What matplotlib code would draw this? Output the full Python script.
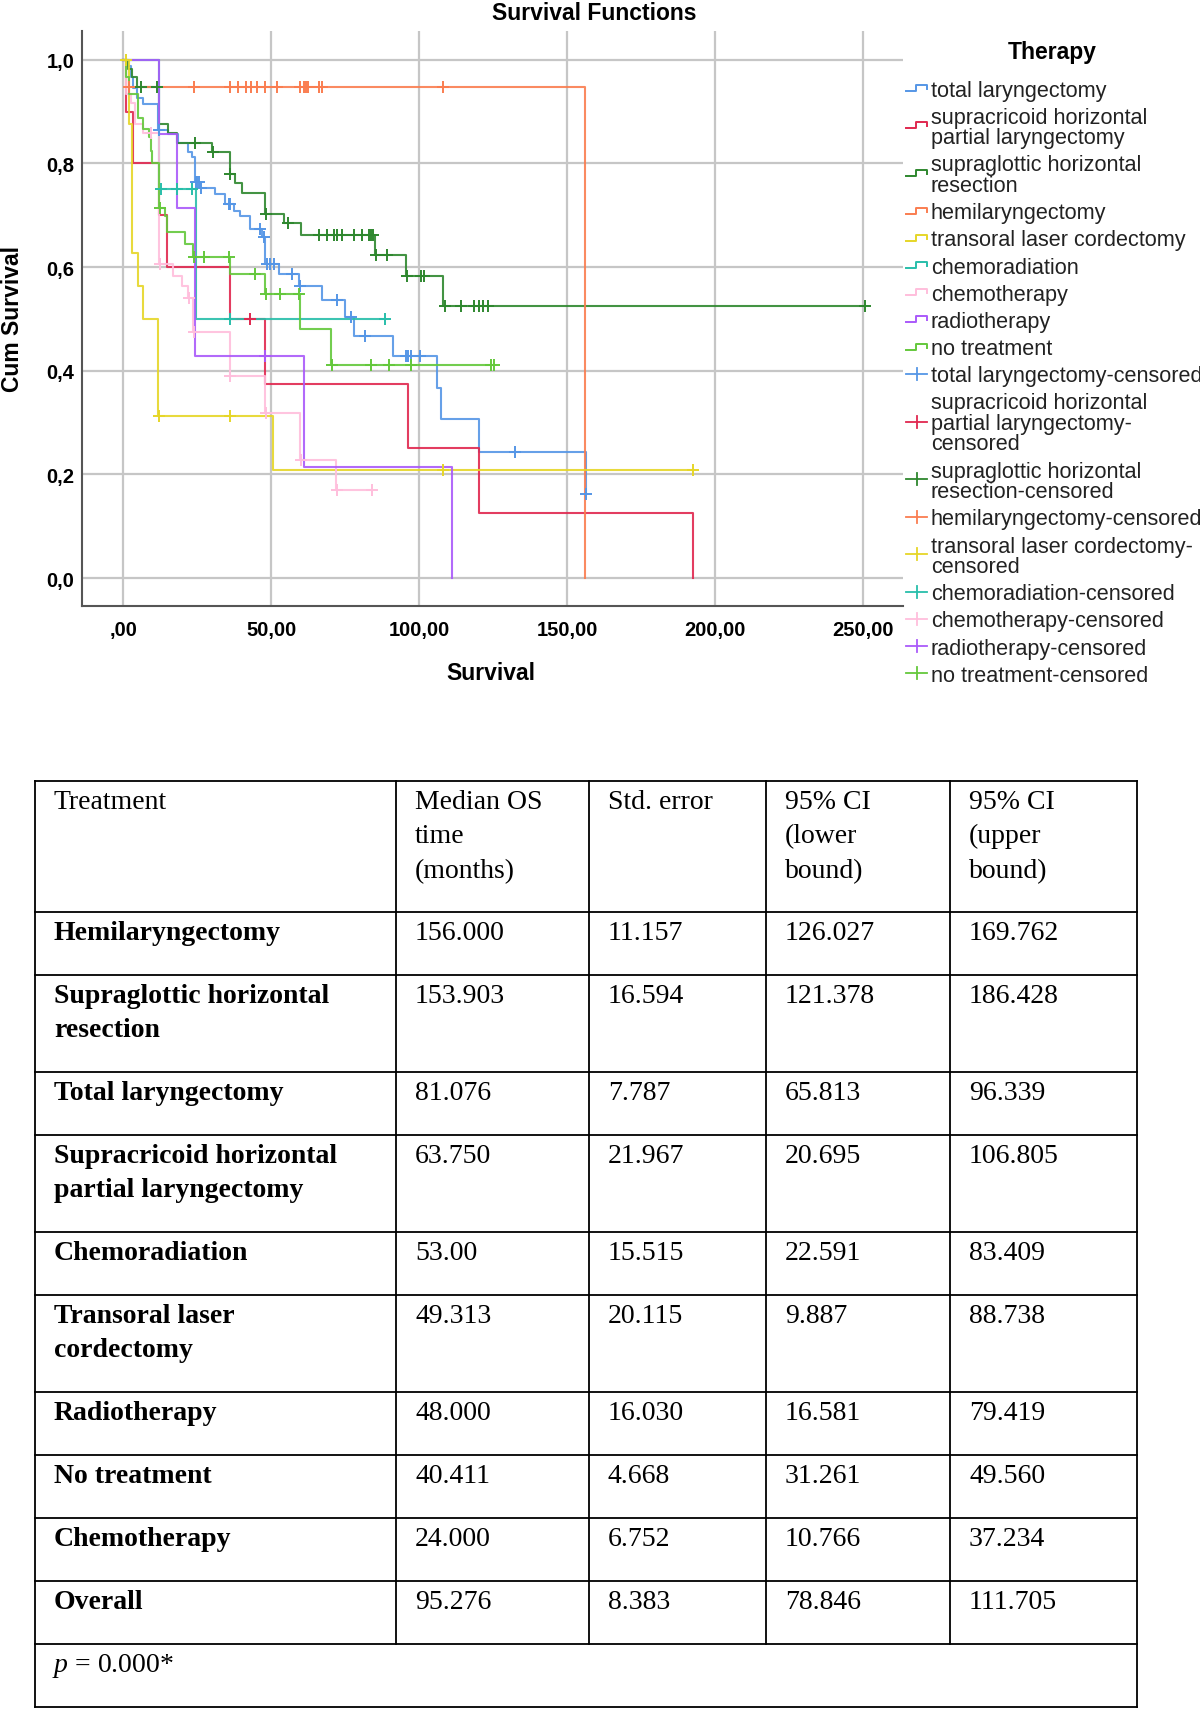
import matplotlib
matplotlib.use('Agg')
import matplotlib.pyplot as plt
from matplotlib.ticker import FuncFormatter, MultipleLocator
import numpy as np

plt.rcParams['font.family'] = ['Liberation Sans', 'DejaVu Sans']
plt.rcParams['mathtext.fontset'] = 'custom'
plt.rcParams['mathtext.rm'] = 'Liberation Serif'
plt.rcParams['mathtext.it'] = 'Liberation Serif:italic'

W, H = 1200, 1715

# Kaplan-Meier steps: event times (months), survival after, censored times
total_t = [1.7, 2.5, 3.4, 4.5, 6.8, 11.6, 15.0, 18.4, 21.7, 23.2, 24.2, 26.0, 31.1, 34.4, 37.3, 39.5,
           42.9, 46.8, 48.0, 52.5, 59.5, 67.2, 75.0, 78.1, 91.2, 106.1, 107.3, 120.2, 156.3]
total_s = [0.988, 0.966, 0.946, 0.927, 0.915, 0.864, 0.857, 0.840, 0.822, 0.813, 0.764, 0.752, 0.740,
           0.721, 0.708, 0.698, 0.673, 0.657, 0.606, 0.586, 0.564, 0.537, 0.503, 0.466, 0.428, 0.366,
           0.307, 0.244, 0.162]
total_c = [11.9, 24.4, 25.0, 25.6, 26.3, 35.6, 36.0, 46.3, 47.4, 48.5, 49.5, 50.8, 57.0, 59.8, 72.2,
           77.0, 81.8, 95.4, 96.3, 97.2, 100.3, 132.4, 156.3]

cric_t = [0.9, 3.4, 12.1, 14.8, 35.9, 48.0, 96.1, 120.2, 192.4]
cric_s = [0.9, 0.8, 0.7, 0.6, 0.5, 0.375, 0.25, 0.125, 0.0]
cric_c = [42.9]

supra_t = [1.5, 3.0, 4.5, 12.2, 15.2, 18.1, 29.9, 35.9, 37.8, 40.1, 47.8, 54.2, 60.2, 85.0, 95.5, 108.1]
supra_s = [0.983, 0.966, 0.947, 0.876, 0.858, 0.839, 0.821, 0.780, 0.763, 0.742, 0.703, 0.684, 0.661,
           0.624, 0.583, 0.525]
supra_c = [5.9, 11.3, 24.2, 30.2, 36.2, 48.1, 55.5, 66.0, 68.9, 71.1, 72.2, 73.9, 78.1, 80.7, 82.9,
           83.7, 84.4, 85.3, 89.0, 96.0, 100.5, 101.5, 108.6, 114.1, 118.5, 120.3, 121.4, 123.1, 250.5]

hemi_t = [1.0, 156.0]
hemi_s = [0.947, 0.0]
hemi_c = [2.0, 24.0, 35.9, 38.9, 41.5, 43.1, 45.0, 47.8, 51.9, 59.8, 60.9, 61.7, 62.4, 66.0, 67.1, 108.1]

tlc_t = [2.0, 2.8, 5.1, 6.8, 11.8, 50.6]
tlc_s = [0.876, 0.628, 0.564, 0.500, 0.312, 0.209]
tlc_c = [0.8, 11.9, 35.9, 108.1, 192.4]

crt_t = [12.0, 24.5]
crt_s = [0.75, 0.5]
crt_c = [12.7, 18.2, 23.3, 35.9, 88.3]

chemo_t = [0.8, 2.5, 4.0, 6.5, 11.9, 16.9, 19.8, 22.0, 23.7, 35.9, 48.0, 59.8, 72.0]
chemo_s = [0.934, 0.917, 0.876, 0.858, 0.606, 0.583, 0.564, 0.541, 0.474, 0.389, 0.318, 0.228, 0.170]
chemo_c = [9.3, 12.3, 22.1, 24.0, 36.0, 48.1, 59.9, 72.1, 84.1]

radio_t = [12.2, 18.1, 24.3, 60.9, 111.2]
radio_s = [0.857, 0.714, 0.429, 0.214, 0.0]
radio_c = [47.9]

none_t = [1.0, 2.0, 4.8, 6.5, 8.8, 9.2, 9.7, 12.1, 14.1, 14.9, 20.9, 23.7, 36.1, 48.0, 59.8, 70.0]
none_s = [0.966, 0.933, 0.888, 0.866, 0.850, 0.824, 0.800, 0.713, 0.699, 0.667, 0.644, 0.619, 0.586,
          0.548, 0.480, 0.411]
none_c = [12.3, 24.0, 27.1, 35.8, 44.5, 48.2, 53.1, 59.3, 70.6, 83.8, 89.8, 97.3, 124.3, 125.3]

groups = [
    ('total laryngectomy', '#5596e6', total_t, total_s, total_c),
    ('supracricoid horizontal\npartial laryngectomy', '#e0284f', cric_t, cric_s, cric_c),
    ('supraglottic horizontal\nresection', '#2e872e', supra_t, supra_s, supra_c),
    ('hemilaryngectomy', '#fa7d50', hemi_t, hemi_s, hemi_c),
    ('transoral laser cordectomy', '#e6d628', tlc_t, tlc_s, tlc_c),
    ('chemoradiation', '#28beaa', crt_t, crt_s, crt_c),
    ('chemotherapy', '#ffbedc', chemo_t, chemo_s, chemo_c),
    ('radiotherapy', '#aa5afa', radio_t, radio_s, radio_c),
    ('no treatment', '#64c83c', none_t, none_s, none_c),
]
censored_labels = [
    'total laryngectomy-censored',
    'supracricoid horizontal\npartial laryngectomy-\ncensored',
    'supraglottic horizontal\nresection-censored',
    'hemilaryngectomy-censored',
    'transoral laser cordectomy-\ncensored',
    'chemoradiation-censored',
    'chemotherapy-censored',
    'radiotherapy-censored',
    'no treatment-censored',
]

# table values
tbl_header = ['Treatment', 'Median OS\ntime\n(months)', 'Std. error', '95% CI\n(lower\nbound)',
              '95% CI\n(upper\nbound)']
treatments = ['Hemilaryngectomy', 'Supraglottic horizontal\nresection', 'Total laryngectomy',
              'Supracricoid horizontal\npartial laryngectomy', 'Chemoradiation',
              'Transoral laser\ncordectomy', 'Radiotherapy', 'No treatment', 'Chemotherapy', 'Overall']
median_os = ['156.000', '153.903', '81.076', '63.750', '53.00', '49.313', '48.000', '40.411', '24.000',
             '95.276']
std_err = ['11.157', '16.594', '7.787', '21.967', '15.515', '20.115', '16.030', '4.668', '6.752', '8.383']
ci_lower = ['126.027', '121.378', '65.813', '20.695', '22.591', '9.887', '16.581', '31.261', '10.766',
            '78.846']
ci_upper = ['169.762', '186.428', '96.339', '106.805', '83.409', '88.738', '79.419', '49.560', '37.234',
            '111.705']
p_text = r'$p$ = 0.000*'


def km_path(t, s, c):
    end = max(t + c)
    x = [0.0] + list(t) + [end]
    y = [1.0] + list(s) + [s[-1]]
    return x, y


def censor_y(t, s, c):
    idx = np.searchsorted(np.array(t), np.array(c), side='right')
    vals = np.concatenate([[1.0], s])
    return vals[idx]


fig = plt.figure(figsize=(W / 100, H / 100), dpi=100)
fig.patch.set_facecolor('white')

# overlay in pixel coordinates for legend, labels and table
lay = fig.add_axes([0, 0, 1, 1], zorder=0)
lay.set_xlim(0, W)
lay.set_ylim(H, 0)
lay.axis('off')

ax = fig.add_axes([82 / W, 1 - 607 / H, (903 - 82) / W, (607 - 32) / H], zorder=1)
ax.set_xlim(-13.95, 263.4)
ax.set_ylim(-0.054, 1.0554)

for name, col, t, s, c in groups:
    x, y = km_path(t, s, c)
    ax.step(x, y, where='post', color=col, lw=1.5, alpha=0.9, zorder=3)
    ax.plot(c, censor_y(t, s, c), ls='none', marker='+', color=col, markersize=8,
            markeredgewidth=1.4, zorder=4)

ax.xaxis.set_major_locator(MultipleLocator(50))
ax.yaxis.set_major_locator(MultipleLocator(0.2))
ax.xaxis.set_major_formatter(FuncFormatter(
    lambda v, p: f'{v:.2f}'.replace('.', ',')[1:] if abs(v) < 1e-9 else f'{v:.2f}'.replace('.', ',')))
ax.yaxis.set_major_formatter(FuncFormatter(lambda v, p: f'{v:.1f}'.replace('.', ',')))
ax.tick_params(length=0, labelsize=14.5)
ax.tick_params(axis='y', pad=5.5)
ax.tick_params(axis='x', pad=10)
for lbl in ax.get_xticklabels() + ax.get_yticklabels():
    lbl.set_fontweight('bold')
ax.grid(True, color='#c6c6c6', lw=1.6)
ax.set_axisbelow(True)
for side in ['top', 'right']:
    ax.spines[side].set_visible(False)
for side in ['left', 'bottom']:
    ax.spines[side].set_color('#555555')
    ax.spines[side].set_linewidth(1.5)

# titles
lay.text(594, 13, 'Survival Functions', ha='center', va='center', fontsize=16.5, fontweight='bold')
lay.text(13, 319, 'Cum Survival', ha='center', va='center', rotation=90, fontsize=16.5,
         fontweight='bold')
lay.text(491, 674, 'Survival', ha='center', va='center', fontsize=16.5, fontweight='bold')

# legend
lay.text(1052, 53, 'Therapy', ha='center', va='center', fontsize=16.5, fontweight='bold')
y = 91
line_step, entry_gap = 20.5, 27.2
entries = [(g[0], g[1], 'line') for g in groups] + \
          [(lab, g[1], 'cens') for lab, g in zip(censored_labels, groups)]
for label, col, kind in entries:
    lines = label.split('\n')
    for i, ln in enumerate(lines):
        lay.text(931, y + i * line_step, ln, ha='left', va='center', fontsize=15.6, color='#222222')
    hy = y + (len(lines) - 1) * line_step / 2 - 2
    if kind == 'line':
        lay.plot([906, 916, 916, 927, 927], [hy + 3, hy + 3, hy - 3, hy - 3, hy + 1], color=col, lw=1.4)
    else:
        lay.plot([906, 927], [hy, hy], color=col, lw=1.3)
        lay.plot([916.5, 916.5], [hy - 6, hy + 6], color=col, lw=1.3)
    y += (len(lines) - 1) * line_step + entry_gap

# table
tx0, tx1 = 35, 1137
col_x = [35, 396, 589, 766, 950]
ty0 = 782
base_h, extra_h = 63, 34
serif = 'Liberation Serif'
rows = [tbl_header] + [list(r) for r in zip(treatments, median_os, std_err, ci_lower, ci_upper)]
top = ty0
row_tops = []
for r in rows:
    nl = max(cell.count('\n') + 1 for cell in r)
    row_tops.append(top)
    top += base_h + extra_h * (nl - 1)
p_top = top
bottom = p_top + base_h

lw_t = 1.3
for yy in row_tops + [p_top]:
    lay.plot([tx0, tx1], [yy, yy], color='black', lw=lw_t)
lay.plot([tx0, tx1], [bottom, bottom], color='black', lw=lw_t)
lay.plot([tx0, tx0], [ty0, bottom], color='black', lw=lw_t)
lay.plot([tx1, tx1], [ty0, bottom], color='black', lw=lw_t)
for cx in col_x[1:]:
    lay.plot([cx, cx], [ty0, p_top], color='black', lw=lw_t)

for ri, (r, rt) in enumerate(zip(rows, row_tops)):
    for ci, cell in enumerate(r):
        weight = 'bold' if (ri > 0 and ci == 0) else 'normal'
        for li, ln in enumerate(cell.split('\n')):
            lay.text(col_x[ci] + 19, rt + 27 + li * 34.5, ln, ha='left', va='baseline',
                     fontsize=20, family=serif, fontweight=weight)
lay.text(52, p_top + 27, p_text, ha='left', va='baseline', fontsize=20, family=serif)

fig.savefig('out.png', dpi=100, facecolor='white')
